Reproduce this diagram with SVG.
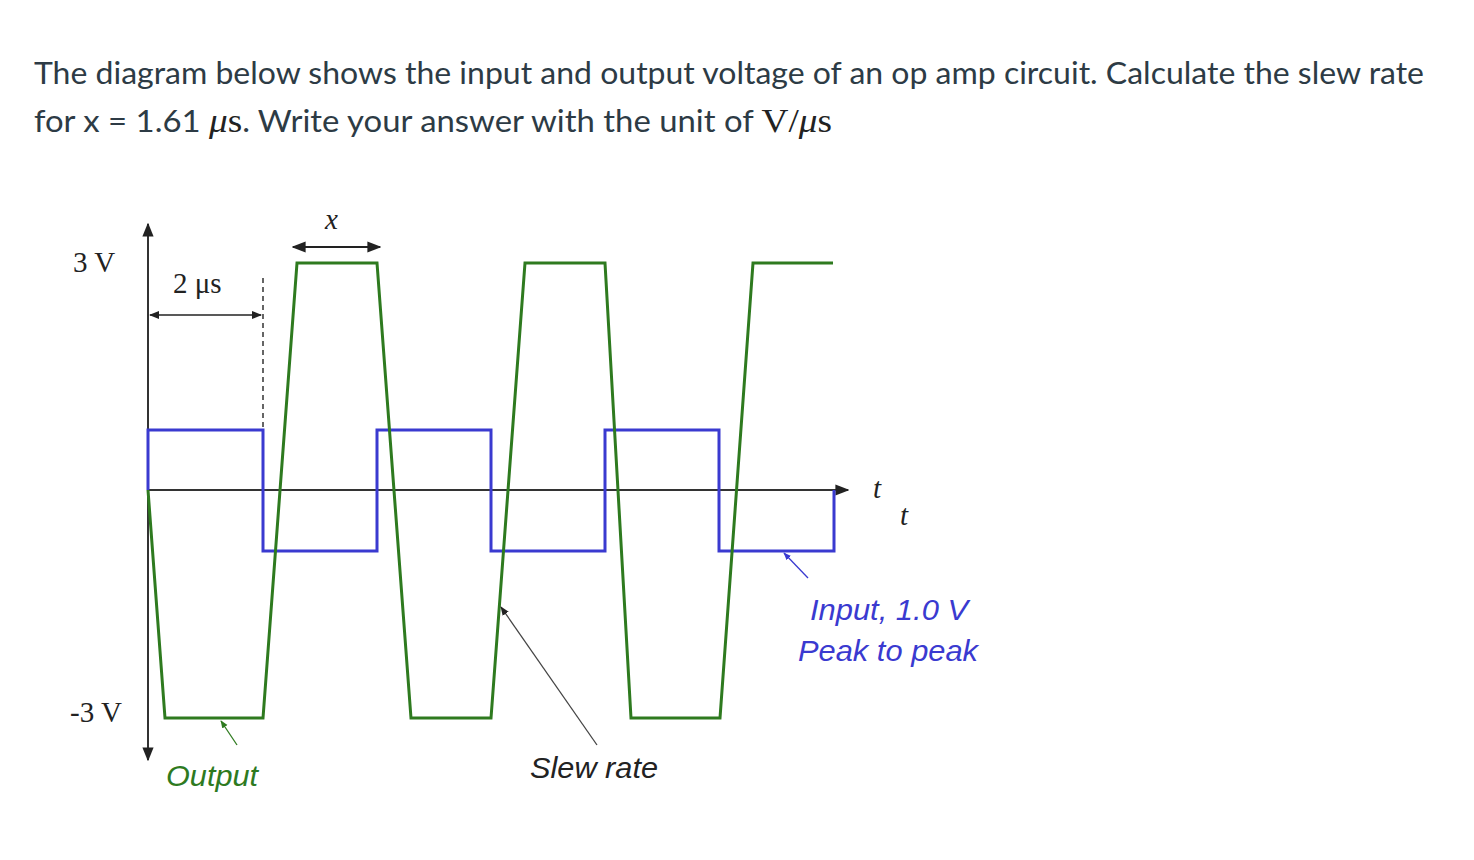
<svg xmlns="http://www.w3.org/2000/svg" width="1474" height="860" viewBox="0 0 1474 860">
<style>
.q{font-family:Lato,"Liberation Sans",sans-serif;font-size:30px;fill:#2d3b45}
.m{font-family:"Liberation Serif",serif;font-size:34px}
.lbl{font-family:"Liberation Serif",serif;font-size:29px;fill:#222}
.it{font-family:"Liberation Sans",Arial,sans-serif;font-style:italic;font-size:29px}
.ax{stroke:#333;stroke-width:2;fill:none}
.g{stroke:#2e7a1f;stroke-width:3;fill:none}
.b{stroke:#3a3ad0;stroke-width:3;fill:none}
</style>
<defs>
<marker id="ah" viewBox="0 0 10 10" refX="9" refY="5" markerWidth="7" markerHeight="7" orient="auto-start-reverse"><path d="M0,1 L10,5 L0,9 Z" fill="#222"/></marker>
<marker id="ahg" viewBox="0 0 10 10" refX="9" refY="5" markerWidth="6" markerHeight="6" orient="auto"><path d="M0,1 L10,5 L0,9 Z" fill="#2e7a1f"/></marker>
<marker id="ahb" viewBox="0 0 10 10" refX="9" refY="5" markerWidth="6" markerHeight="6" orient="auto"><path d="M0,1 L10,5 L0,9 Z" fill="#3a3ad0"/></marker>
</defs>
<rect width="1474" height="860" fill="#fff"/>
<text class="q" x="34" y="84" textLength="1390" lengthAdjust="spacingAndGlyphs">The diagram below shows the input and output voltage of an op amp circuit. Calculate the slew rate</text>
<text class="q" x="34" y="132" textLength="798" lengthAdjust="spacingAndGlyphs">for x = 1.61 <tspan class="m" font-style="italic" fill="#222">μ</tspan><tspan class="m" fill="#222">s</tspan>. Write your answer with the unit of <tspan class="m" fill="#222">V/<tspan font-style="italic">μ</tspan>s</tspan></text>
<g id="axes">
<line class="ax" x1="148" y1="760" x2="148" y2="224" marker-end="url(#ah)" marker-start="url(#ah)"/>
<line class="ax" x1="148" y1="490" x2="848" y2="490" stroke="#555" stroke-width="2.5" marker-end="url(#ah)"/>
</g>
<g id="input"><polyline class="b" points="148,490 148,430 263,430 263,551 377,551 377,430 491,430 491,551 605,551 605,430 719,430 719,551 834,551 834,490"/></g>
<g id="output"><polyline class="g" points="148,490 165,718 263,718 297,263 377,263 411,718 491,718 525,263 605,263 631,718 720,718 753,263 833,263"/></g>
<g id="connectors">
<line x1="263" y1="278" x2="263" y2="430" stroke="#333" stroke-width="1.5" stroke-dasharray="5,4"/>
<line x1="150" y1="315" x2="261" y2="315" stroke="#222" stroke-width="1.5" marker-start="url(#ah)" marker-end="url(#ah)"/>
<line x1="293" y1="247" x2="380" y2="247" stroke="#222" stroke-width="2" marker-start="url(#ah)" marker-end="url(#ah)"/>
<line x1="237" y1="745" x2="221" y2="721" stroke="#2e7a1f" stroke-width="1.3" marker-end="url(#ahg)"/>
<line x1="597" y1="745" x2="501" y2="607" stroke="#444" stroke-width="1.3" marker-end="url(#ah)"/>
<line x1="808" y1="578" x2="784" y2="553" stroke="#3a3ad0" stroke-width="1.3" marker-end="url(#ahb)"/>
</g>
<g id="labels">
<text class="lbl" x="73" y="272">3 V</text>
<text class="lbl" x="70" y="722">-3 V</text>
<text class="lbl" x="173" y="293">2 μs</text>
<text class="lbl" x="325" y="229" font-style="italic">x</text>
<text class="lbl" x="873" y="498" font-style="italic">t</text>
<text class="lbl" x="900" y="525" font-style="italic">t</text>
<text class="it" x="166" y="786" fill="#2e7a1f" textLength="92" lengthAdjust="spacingAndGlyphs">Output</text>
<text class="it" x="530" y="778" fill="#222" textLength="128" lengthAdjust="spacingAndGlyphs">Slew rate</text>
<text class="it" x="810" y="620" fill="#3a3ad0" textLength="158" lengthAdjust="spacingAndGlyphs">Input, 1.0 V</text>
<text class="it" x="798" y="661" fill="#3a3ad0" textLength="180" lengthAdjust="spacingAndGlyphs">Peak to peak</text>
</g>
</svg>
